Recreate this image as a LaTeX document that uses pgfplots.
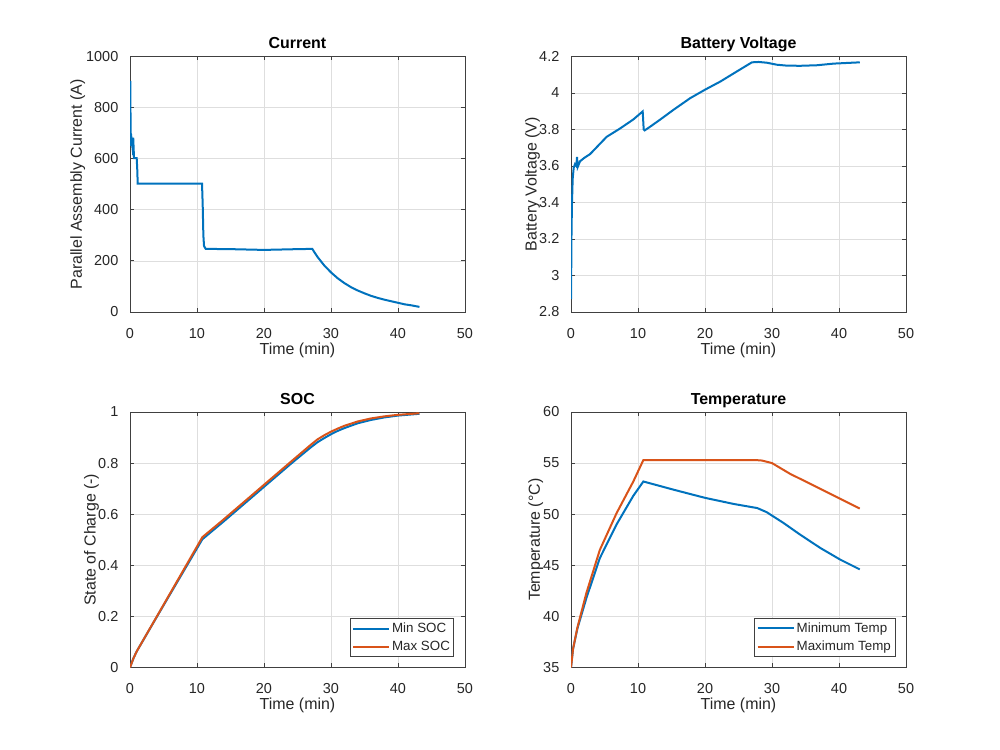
\documentclass[border=0pt]{standalone}
\usepackage{pgfplots}
\pgfplotsset{compat=1.18}
\usepackage{fontspec}
\setmainfont{Liberation Sans}

\definecolor{mblue}{RGB}{0,114,189}
\definecolor{morange}{RGB}{217,83,25}
\definecolor{axcol}{RGB}{64,64,64}
\definecolor{txcol}{RGB}{38,38,38}

\pgfplotsset{
  every axis title shift=0pt,
  mstyle/.style={
    scale only axis,
    width=335bp, height=255.5bp,
    anchor=south west,
    xmin=0, xmax=50,
    xtick={0,10,...,50},
    grid=major,
    major grid style={color=black!13, line width=0.6bp},
    axis line style={color=axcol, line width=0.8bp},
    tick style={color=axcol, line width=0.8bp},
    tick align=inside,
    major tick length=4bp,
    /pgf/number format/assume math mode=true,
    /pgf/number format/1000 sep={},
    tick label style={font=\fontsize{14.5}{17}\selectfont, text=txcol, inner sep=0pt},
    x tick label style={anchor=base, yshift=-26.5bp},
    y tick label style={anchor=east, xshift=-11.5bp},
    title style={font=\fontsize{16}{19}\selectfont\bfseries, at={(axis description cs:0.5,1)}, anchor=base, yshift=7.5bp},
    xlabel={Time (min)},
    x label style={font=\fontsize{16}{19}\selectfont, text=txcol, at={(axis description cs:0.5,0)}, anchor=base, yshift=-42.3bp},
    y label style={font=\fontsize{16}{19}\selectfont, text=txcol, rotate=0, anchor=center},
    legend cell align=left,
    legend image code/.code={\draw[#1] (0bp,0bp) -- (36bp,0bp);},
    legend style={font=\fontsize{13.4}{15}\selectfont, text=txcol, draw=axcol, line width=0.8bp,
      at={(1,0)}, anchor=south east, xshift=-10.7bp, yshift=10.4bp,
      inner xsep=2bp, inner ysep=2.5bp, row sep=3bp},
    every axis plot/.append style={line width=2bp},
  }
}

\begin{document}
\begin{tikzpicture}
\useasboundingbox (0,0) rectangle (1000bp,750bp);

% Current
\begin{axis}[mstyle, at={(130bp,438bp)},
  title={Current},
  ymin=0, ymax=1000, ytick={0,200,...,1000},
  ylabel={Parallel Assembly Current (A)},
  y label style={at={(axis description cs:-0.156,0.5)}},
]
\addplot[mblue] coordinates {
(0.05,905)(0.1,650)(0.25,672)(0.35,648)(0.48,682)(0.6,602)(1.0,602)(1.08,560)(1.15,502)
(10.75,502)(10.85,420)(10.95,300)(11.05,258)(11.3,247)(15,246)(20,243)(25,246)(27.2,247)
(28,215)(29,182)(30,155)(31,132)(32,113)(33,97)(34,84)(35,73)(36,63)(37,55)(38,48)
(39,42)(40,36)(41,30)(42,26)(43.2,20)
};
\end{axis}

% Battery Voltage
\begin{axis}[mstyle, at={(571bp,438bp)},
  title={Battery Voltage},
  ymin=2.8, ymax=4.2, ytick={2.8,3,3.2,3.4,3.6,3.8,4,4.2},
  ylabel={Battery Voltage (V)},
  y label style={at={(axis description cs:-0.115,0.5)}},
]
\addplot[mblue] coordinates {
(0,2.87)(0.08,3.25)(0.15,3.4)(0.25,3.53)(0.4,3.59)(0.6,3.61)(0.8,3.6)(0.9,3.65)(1.0,3.595)
(1.35,3.626)(2.0,3.645)(2.84,3.665)(3.5,3.69)(4.33,3.722)(5.33,3.76)(7.3,3.805)(9.3,3.855)
(10.7,3.899)(10.85,3.80)(11.0,3.795)(11.8,3.815)(13.3,3.854)(15.3,3.908)(17.8,3.972)
(20,4.018)(22.3,4.063)(24.75,4.118)(27,4.168)(28,4.17)(29.2,4.166)(30.7,4.155)(32.2,4.15)
(34.2,4.149)(36.7,4.152)(39.2,4.161)(43.1,4.168)
};
\end{axis}

% SOC
\begin{axis}[mstyle, at={(130bp,82.5bp)},
  title={SOC},
  ymin=0, ymax=1, ytick={0,0.2,0.4,0.6,0.8,1},
  ylabel={State of Charge (-)},
  y label style={at={(axis description cs:-0.115,0.5)}},
]
\addplot[mblue] coordinates {
(0,0)(0.5,0.035)(1,0.063)(5,0.243)(10.8,0.502)(14,0.572)(20,0.707)(24,0.797)(27,0.862)
(28,0.882)(29,0.898)(30,0.913)(31,0.926)(32,0.937)(34,0.956)(36,0.969)(38,0.979)(40,0.986)(43.2,0.993)
};
\addlegendentry{Min SOC}
\addplot[morange] coordinates {
(0,0)(0.5,0.035)(1,0.063)(5,0.245)(10.8,0.51)(14,0.58)(20,0.715)(24,0.805)(27,0.872)
(28,0.893)(29,0.909)(30,0.923)(31,0.935)(32,0.946)(34,0.963)(36,0.975)(38,0.983)(40,0.989)(43.2,0.995)
};
\addlegendentry{Max SOC}
\end{axis}

% Temperature
\begin{axis}[mstyle, at={(571bp,82.5bp)},
  title={Temperature},
  ymin=35, ymax=60, ytick={35,40,...,60},
  ylabel={Temperature (°C)},
  y label style={at={(axis description cs:-0.105,0.5)}},
]
\addplot[mblue] coordinates {
(0,35)(0.3,36.8)(0.95,38.8)(2.3,41.8)(4.3,45.7)(6.8,49.0)(9.3,51.8)(10.8,53.2)(15.3,52.4)
(20,51.6)(24.3,51.0)(27.8,50.6)(29.2,50.2)(31.7,49.15)(34.2,48.0)(37.2,46.7)(40.2,45.55)(43.1,44.6)
};
\addlegendentry{Minimum Temp}
\addplot[morange] coordinates {
(0,35)(0.3,36.8)(0.95,38.9)(2.3,42.3)(4.3,46.5)(6.8,50.1)(9.3,53.2)(10.8,55.3)(27.5,55.3)
(28.5,55.25)(30,55.0)(32.7,53.95)(36.7,52.65)(43.1,50.55)
};
\addlegendentry{Maximum Temp}
\end{axis}
\end{tikzpicture}
\end{document}
